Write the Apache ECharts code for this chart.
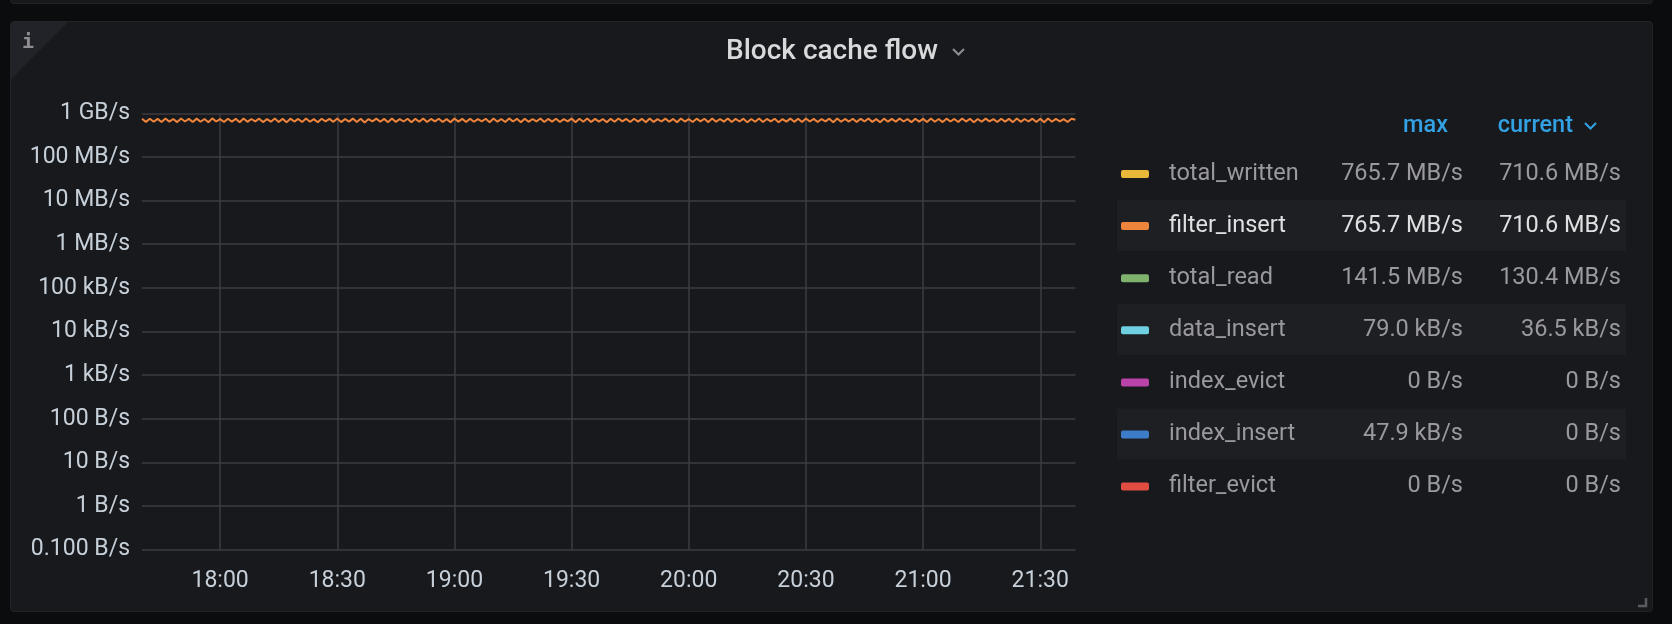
<!DOCTYPE html>
<html>
<head>
<meta charset="utf-8">
<script src="https://cdn.jsdelivr.net/npm/echarts@6/dist/echarts.min.js"></script>
<style>
  html,body{margin:0;padding:0;background:#0b0c0e;width:1672px;height:624px;overflow:hidden;}
  #top{position:absolute;left:10px;top:-20px;width:1641px;height:22px;background:#18191d;border:1px solid #222327;border-radius:4px;}
  #panel{position:absolute;left:10px;top:21px;width:1641px;height:589px;background:#18191d;border:1px solid #222327;border-radius:4px;}
  #chart{position:absolute;left:0;top:0;width:1672px;height:624px;}
</style>
</head>
<body>
<div id="top"></div>
<div id="panel"></div>
<div id="chart"></div>
<script>
// ---- data ----
const chartTitle = 'Block cache flow';
const startTime = new Date(2021, 0, 1, 17, 40, 0).getTime();
const stepMs = 60 * 1000;
// filter_insert, MB/s, one sample per minute
const filterInsertMB = [
748,636,752,641,745,630,758,644,739,628,761,650,744,633,755,639,742,626,765.7,648,
736,631,750,645,747,622,757,638,741,652,753,629,738,643,760,634,746,620,754,647,
743,632,759,640,735,625,751,655,744,637,762,628,740,646,756,633,748,619,737,651,
755,642,745,627,763,636,739,649,752,624,747,641,758,630,742,653,750,635,736,623,
761,645,744,632,753,639,738,656,749,626,757,643,741,631,764,648,746,621,754,637,
740,650,759,629,743,644,751,634,737,654,756,625,748,640,762,633,745,647,739,622,
753,638,760,652,742,630,750,643,747,627,758,635,736,649,755,641,744,624,761,646,
738,632,752,655,749,628,757,639,741,645,763,631,746,650,754,620,740,642,759,634,
743,653,751,626,737,644,756,637,748,629,762,648,745,633,739,654,753,623,760,640,
742,647,750,630,747,651,758,636,736,625,755,643,744,638,761,649,738,627,752,645,
746,634,757,641,739,628,754,650,743,632,760,646,748,624,741,639,756,652,737,630,
751,644,745,627,762,637,740,649,753,633,747,622,758,642,744,655,736,631,750,710.6
];
const xTickLabels = ['18:00','18:30','19:00','19:30','20:00','20:30','21:00','21:30'];
const yTickValues = [0.1, 1, 10, 100, 1e3, 1e4, 1e5, 1e6, 1e7, 1e8, 1e9];
const yTickLabels = ['0.100 B/s','1 B/s','10 B/s','100 B/s','1 kB/s','10 kB/s','100 kB/s','1 MB/s','10 MB/s','100 MB/s','1 GB/s'];
const legendNames = ['total_written','filter_insert','total_read','data_insert','index_evict','index_insert','filter_evict'];
const legendColors = ['#EAB839','#EF843C','#7EB26D','#6ED0E0','#BA43A9','#3D7CC9','#E24D42'];
const legendMax = ['765.7 MB/s','765.7 MB/s','141.5 MB/s','79.0 kB/s','0 B/s','47.9 kB/s','0 B/s'];
const legendCurrent = ['710.6 MB/s','710.6 MB/s','130.4 MB/s','36.5 kB/s','0 B/s','0 B/s','0 B/s'];
const activeSeries = 'filter_insert';
const legendHeaders = ['max','current'];

// ---- build ----
const seriesData = filterInsertMB.map((v, i) => [startTime + i * stepMs, v * 1e6]);
const endTime = startTime + (filterInsertMB.length - 1) * stepMs;
const xTickValues = xTickLabels.map(s => {
  const [h, m] = s.split(':').map(Number);
  return new Date(2021, 0, 1, h, m, 0).getTime();
});

function pad(n){ return (n < 10 ? '0' : '') + n; }

const FONT = 'Roboto, "Noto Sans", sans-serif';
const graphics = [];
// info corner
graphics.push({type:'polygon', shape:{points:[[11,22],[68,22],[11,79]]}, style:{fill:'#222328'}, silent:true});
graphics.push({type:'text', style:{text:'i', x:28, y:43, fill:'#8e8e93', font:'bold 20px "DejaVu Sans Mono", monospace', textAlign:'center', textVerticalAlign:'middle'}});
// title
graphics.push({type:'text', style:{text:chartTitle, x:832, y:52, fill:'#d8d9da', font:'500 28px ' + FONT, textAlign:'center', textVerticalAlign:'middle'}});
graphics.push({type:'polyline', shape:{points:[[953,49],[958.5,54.5],[964,49]]}, style:{stroke:'#8e8e93', lineWidth:2, fill:null}});
// legend header
const rowTop = 148, rowH = 52.1;
graphics.push({type:'text', style:{text:legendHeaders[0], x:1448, y:126, fill:'#33a2e5', font:'500 23.5px ' + FONT, textAlign:'right', textVerticalAlign:'middle'}});
graphics.push({type:'text', style:{text:legendHeaders[1], x:1573, y:126, fill:'#33a2e5', font:'500 23.5px ' + FONT, textAlign:'right', textVerticalAlign:'middle'}});
graphics.push({type:'polyline', shape:{points:[[1585,123],[1590.5,128.5],[1596,123]]}, style:{stroke:'#33a2e5', lineWidth:2, fill:null}});
legendNames.forEach((name, i) => {
  const cy = rowTop + rowH * i + 26;
  if (i % 2 === 1) {
    graphics.push({type:'rect', shape:{x:1117, y:rowTop + rowH * i, width:509, height:51}, style:{fill:'#1e1f23'}, silent:true});
  }
  const on = name === activeSeries;
  const txtCol = on ? '#dfe0e2' : '#9a9a9e';
  graphics.push({type:'rect', shape:{x:1121, y:cy - 4, width:28, height:8, r:2}, style:{fill:legendColors[i]}});
  graphics.push({type:'text', style:{text:name, x:1169, y:cy, fill:txtCol, font:'23.5px ' + FONT, textAlign:'left', textVerticalAlign:'middle'}});
  graphics.push({type:'text', style:{text:legendMax[i], x:1463, y:cy, fill:txtCol, font:'23.5px ' + FONT, textAlign:'right', textVerticalAlign:'middle'}});
  graphics.push({type:'text', style:{text:legendCurrent[i], x:1621, y:cy, fill:txtCol, font:'23.5px ' + FONT, textAlign:'right', textVerticalAlign:'middle'}});
});
// resize handle
graphics.push({type:'polyline', shape:{points:[[1646,598],[1646,606],[1638,606]]}, style:{stroke:'#5a5b5f', lineWidth:2.5, fill:null}});

const chart = echarts.init(document.getElementById('chart'), null, {renderer:'canvas'});
chart.setOption({
  backgroundColor: 'transparent',
  animation: false,
  textStyle: {fontFamily: FONT},
  grid: {left:142, right:596.6, top:113.3, bottom:74.3, containLabel:false},
  xAxis: {
    type:'value', min:startTime, max:endTime, scale:true,
    axisLine:{show:false},
    axisTick:{show:false, customValues: xTickValues},
    splitLine:{show:true, lineStyle:{color:'#3c3d41', width:1.5}},
    axisLabel:{color:'#c7d0d9', fontSize:23, margin:20, fontFamily:FONT, customValues: xTickValues,
      formatter: v => {
        const d = new Date(v);
        return pad(d.getHours()) + ':' + pad(d.getMinutes());
      }}
  },
  yAxis: {
    type:'log', logBase:10, min:yTickValues[0], max:yTickValues[yTickValues.length-1], interval:1,
    axisLine:{show:false}, axisTick:{show:false},
    splitLine:{show:true, lineStyle:{color:'#3c3d41', width:1.5}},
    axisLabel:{color:'#c7d0d9', fontSize:23, margin:12, fontFamily:FONT,
      formatter: v => {
        let best = 0, bd = Infinity;
        yTickValues.forEach((t, i) => { const d = Math.abs(Math.log10(t) - Math.log10(v)); if (d < bd) { bd = d; best = i; } });
        return yTickLabels[best];
      }}
  },
  series: [{
    name: activeSeries, type:'line', data: seriesData, showSymbol:false, symbol:'none',
    lineStyle:{color:'#EF843C', width:2}, itemStyle:{color:'#EF843C'}, z:5
  }],
  graphic: graphics
});
</script>
</body>
</html>
